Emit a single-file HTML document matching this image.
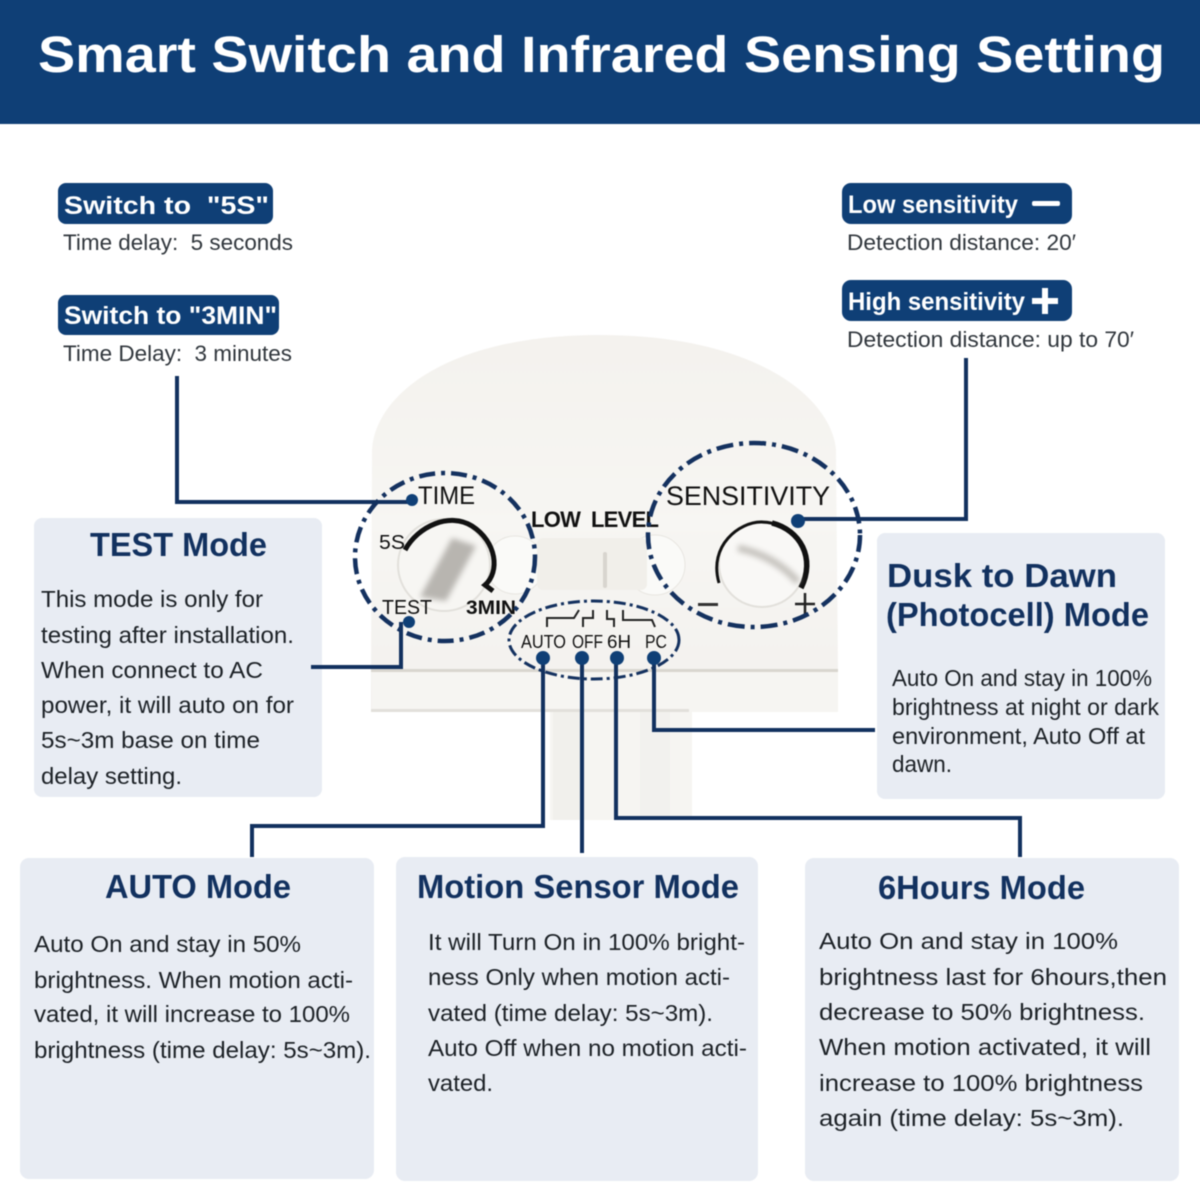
<!DOCTYPE html>
<html><head><meta charset="utf-8"><style>
html,body{margin:0;padding:0;background:#fff}
svg{display:block}
.all{filter:blur(.4px)}
text{font-family:"Liberation Sans",sans-serif}
.b{font-size:23px;fill:#1c2126}
.h{font-size:33px;font-weight:bold;fill:#12315f}
.t{font-size:22px;fill:#30363c}
.w{font-size:25px;font-weight:bold;fill:#fff}
.d{fill:#111}
</style></head><body>
<svg width="1200" height="1200" viewBox="0 0 1200 1200" xmlns="http://www.w3.org/2000/svg">
<defs>
<linearGradient id="body" x1="0" y1="0" x2="0" y2="1"><stop offset="0" stop-color="#f4f2ee"/><stop offset=".5" stop-color="#f7f6f3"/><stop offset="1" stop-color="#f3f1ee"/></linearGradient>
<filter id="s2" x="-30%" y="-30%" width="160%" height="160%"><feGaussianBlur stdDeviation="3"/></filter>
</defs>
<rect width="1200" height="1200" fill="#fff"/>
<g class="all">
<rect x="-20" y="-20" width="1240" height="144" fill="#0f3f76"/>
<text x="38" y="72" font-size="51" font-weight="bold" fill="#fff" textLength="1127" lengthAdjust="spacingAndGlyphs">Smart Switch and Infrared Sensing Setting</text>

<!-- device -->
<rect x="550" y="705" width="142" height="115" fill="#f6f5f2"/>
<rect x="553" y="712" width="28" height="108" fill="#f1f0ec"/>
<rect x="640" y="712" width="30" height="108" fill="#f2f1ee"/>
<path d="M372 450C374 400 440 335 600 335C760 335 832 400 836 450L838 670L838 712L371 712L371 670Z" fill="url(#body)"/>
<rect x="371" y="669" width="467" height="3" fill="#d9d6cf"/>
<rect x="372" y="672" width="466" height="40" fill="#f6f5f2"/>
<rect x="371" y="709" width="318" height="3" fill="#e2e0db"/>
<circle cx="515" cy="565" r="29" fill="#fafaf8" stroke="#e8e6e1"/>
<circle cx="655" cy="565" r="30" fill="#fafaf8" stroke="#e8e6e1"/>
<rect x="537" y="538" width="110" height="52" rx="6" fill="#f1efea"/>
<rect x="603" y="552" width="4" height="36" rx="2" fill="#d8d5cf"/>

<!-- knobs -->
<circle cx="444" cy="565" r="46" fill="#f7f6f3" stroke="#e2e0db" stroke-width="2"/>
<path d="M420 597L452 538L476 546L446 601Z" fill="#b8b5b0" filter="url(#s2)"/>
<path d="M405 550C418 526 450 512 472 526C497 542 500 572 485 585L493 591" fill="none" stroke="#111" stroke-width="5"/>
<circle cx="762" cy="564" r="43" fill="#f9f8f6" stroke="#e2e0db" stroke-width="2"/>
<path d="M719 583C708 545 740 522 761 522C795 522 818 555 800 587" fill="none" stroke="#111" stroke-width="3"/>
<path d="M772 523C800 530 816 558 801 588" fill="none" stroke="#111" stroke-width="5.5"/>
<path d="M738 548Q775 556 798 582" fill="none" stroke="#c4c1bc" stroke-width="7" filter="url(#s2)"/>

<!-- device labels -->
<text class="d" x="418" y="504" font-size="25" textLength="57" lengthAdjust="spacingAndGlyphs">TIME</text>
<text class="d" x="379" y="549" font-size="20" textLength="26" lengthAdjust="spacingAndGlyphs">5S</text>
<text class="d" x="382" y="614" font-size="20" textLength="50" lengthAdjust="spacingAndGlyphs">TEST</text>
<text class="d" x="466" y="614" font-size="19" font-weight="bold" textLength="50" lengthAdjust="spacingAndGlyphs">3MIN</text>
<text class="d" x="531" y="527" font-size="22" font-weight="bold" textLength="128" lengthAdjust="spacing">LOW&#160;&#160;LEVEL</text>
<text class="d" x="666" y="505" font-size="27" textLength="164" lengthAdjust="spacingAndGlyphs">SENSITIVITY</text>
<rect x="698" y="603" width="20" height="3" fill="#333"/>
<path d="M795 604H815M805 593V617" stroke="#222" stroke-width="2.5"/>
<text class="d" x="521" y="648" font-size="18" textLength="45" lengthAdjust="spacingAndGlyphs">AUTO</text>
<text class="d" x="572" y="648" font-size="18" textLength="31" lengthAdjust="spacingAndGlyphs">OFF</text>
<text class="d" x="607" y="648" font-size="18" textLength="24" lengthAdjust="spacingAndGlyphs">6H</text>
<text class="d" x="645" y="648" font-size="18" textLength="22" lengthAdjust="spacingAndGlyphs">PC</text>
<path d="M547 627V618H574L579 610M583 627V618H593V610M607 610V619H614V627M623 610V620H652L655 627" fill="none" stroke="#222" stroke-width="2"/>

<!-- dashed circles -->
<ellipse cx="445" cy="557" rx="90" ry="84" fill="none" stroke="#14315f" stroke-width="4.5" stroke-dasharray="16 6 4 6"/>
<ellipse cx="754" cy="535" rx="106" ry="92" fill="none" stroke="#14315f" stroke-width="4.5" stroke-dasharray="17 6 4 6"/>
<ellipse cx="594" cy="640" rx="85" ry="39" fill="none" stroke="#14315f" stroke-width="3" stroke-dasharray="12 4 3 4"/>

<!-- top-left -->
<rect x="58" y="183" width="215" height="41" rx="8" fill="#0f3f76"/>
<text class="w" x="64" y="214" textLength="205" lengthAdjust="spacingAndGlyphs">Switch to&#160;&#160;"5S"</text>
<text class="t" x="63" y="250" textLength="230" lengthAdjust="spacingAndGlyphs">Time delay:&#160;&#160;5 seconds</text>
<rect x="58" y="295" width="221" height="40" rx="8" fill="#0f3f76"/>
<text class="w" x="64" y="324" textLength="213" lengthAdjust="spacingAndGlyphs">Switch to "3MIN"</text>
<text class="t" x="63" y="361" textLength="229" lengthAdjust="spacingAndGlyphs">Time Delay:&#160;&#160;3 minutes</text>

<!-- top-right -->
<rect x="842" y="183" width="230" height="41" rx="9" fill="#0f3f76"/>
<text class="w" x="848" y="213" textLength="170" lengthAdjust="spacingAndGlyphs" font-size="24">Low sensitivity</text>
<rect x="1032" y="201" width="28" height="5" rx="2" fill="#fff"/>
<text class="t" x="847" y="250" textLength="229" lengthAdjust="spacingAndGlyphs">Detection distance: 20′</text>
<rect x="842" y="280" width="230" height="41" rx="9" fill="#0f3f76"/>
<text class="w" x="848" y="310" textLength="177" lengthAdjust="spacingAndGlyphs" font-size="24">High sensitivity</text>
<path d="M1032 301H1058M1045 288V314" stroke="#fff" stroke-width="6"/>
<text class="t" x="847" y="347" textLength="287" lengthAdjust="spacingAndGlyphs">Detection distance: up to 70′</text>

<!-- panels -->
<rect x="34" y="518" width="288" height="279" rx="8" fill="#e8ecf3"/>
<rect x="877" y="533" width="288" height="266" rx="8" fill="#e8ecf3"/>
<rect x="20" y="858" width="354" height="321" rx="9" fill="#e8ecf3"/>
<rect x="396" y="857" width="362" height="324" rx="9" fill="#e8ecf3"/>
<rect x="805" y="858" width="374" height="323" rx="9" fill="#e8ecf3"/>

<!-- connectors -->
<g fill="none" stroke="#12315f" stroke-width="4">
<path d="M177 376V502H412"/>
<path d="M966 358V519H797"/>
<path d="M311 667H401V622"/>
<path d="M543 656V826H252V857"/>
<path d="M582 657V853"/>
<path d="M616 657V818H1020V857"/>
<path d="M654 657V730H875"/>
</g>
<g fill="#0f3f76">
<circle cx="412" cy="500" r="6"/>
<circle cx="409" cy="622" r="6"/>
<circle cx="798" cy="521" r="7"/>
<circle cx="543" cy="658" r="7"/>
<circle cx="582" cy="658" r="7"/>
<circle cx="617" cy="658" r="7"/>
<circle cx="654" cy="658" r="7"/>
</g>

<!-- test -->
<text class="h" x="90" y="556" textLength="177" lengthAdjust="spacingAndGlyphs">TEST Mode</text>
<text class="b" x="41" y="607" textLength="222" lengthAdjust="spacingAndGlyphs">This mode is only for</text>
<text class="b" x="41" y="643" textLength="253" lengthAdjust="spacingAndGlyphs">testing after installation.</text>
<text class="b" x="41" y="678" textLength="222" lengthAdjust="spacingAndGlyphs">When connect to AC</text>
<text class="b" x="41" y="713" textLength="253" lengthAdjust="spacingAndGlyphs">power, it will auto on for</text>
<text class="b" x="41" y="748" textLength="219" lengthAdjust="spacingAndGlyphs">5s~3m base on time</text>
<text class="b" x="41" y="784" textLength="141" lengthAdjust="spacingAndGlyphs">delay setting.</text>

<!-- dusk -->
<text class="h" x="887" y="587" textLength="230" lengthAdjust="spacingAndGlyphs">Dusk to Dawn</text>
<text class="h" x="886" y="626" textLength="263" lengthAdjust="spacingAndGlyphs">(Photocell) Mode</text>
<text class="b" x="892" y="686" textLength="260" lengthAdjust="spacingAndGlyphs">Auto On and stay in 100%</text>
<text class="b" x="892" y="715" textLength="267" lengthAdjust="spacingAndGlyphs">brightness at night or dark</text>
<text class="b" x="892" y="744" textLength="253" lengthAdjust="spacingAndGlyphs">environment, Auto Off at</text>
<text class="b" x="892" y="772" textLength="60" lengthAdjust="spacingAndGlyphs">dawn.</text>

<!-- auto -->
<text class="h" x="105" y="898" textLength="186" lengthAdjust="spacingAndGlyphs">AUTO Mode</text>
<text class="b" x="34" y="952" textLength="267" lengthAdjust="spacingAndGlyphs">Auto On and stay in 50%</text>
<text class="b" x="34" y="988" textLength="319" lengthAdjust="spacingAndGlyphs">brightness. When motion acti-</text>
<text class="b" x="34" y="1022" textLength="316" lengthAdjust="spacingAndGlyphs">vated, it will increase to 100%</text>
<text class="b" x="34" y="1058" textLength="337" lengthAdjust="spacingAndGlyphs">brightness (time delay: 5s~3m).</text>

<!-- motion -->
<text class="h" x="417" y="898" textLength="322" lengthAdjust="spacingAndGlyphs">Motion Sensor Mode</text>
<text class="b" x="428" y="950" textLength="317" lengthAdjust="spacingAndGlyphs">It will Turn On in 100% bright-</text>
<text class="b" x="428" y="985" textLength="302" lengthAdjust="spacingAndGlyphs">ness Only when motion acti-</text>
<text class="b" x="428" y="1021" textLength="285" lengthAdjust="spacingAndGlyphs">vated (time delay: 5s~3m).</text>
<text class="b" x="428" y="1056" textLength="319" lengthAdjust="spacingAndGlyphs">Auto Off when no motion acti-</text>
<text class="b" x="428" y="1091" textLength="65" lengthAdjust="spacingAndGlyphs">vated.</text>

<!-- 6h -->
<text class="h" x="878" y="899" textLength="207" lengthAdjust="spacingAndGlyphs">6Hours Mode</text>
<text class="b" x="819" y="949" textLength="299" lengthAdjust="spacingAndGlyphs">Auto On and stay in 100%</text>
<text class="b" x="819" y="985" textLength="348" lengthAdjust="spacingAndGlyphs">brightness last for 6hours,then</text>
<text class="b" x="819" y="1020" textLength="326" lengthAdjust="spacingAndGlyphs">decrease to 50% brightness.</text>
<text class="b" x="819" y="1055" textLength="332" lengthAdjust="spacingAndGlyphs">When motion activated, it will</text>
<text class="b" x="819" y="1091" textLength="324" lengthAdjust="spacingAndGlyphs">increase to 100% brightness</text>
<text class="b" x="819" y="1126" textLength="305" lengthAdjust="spacingAndGlyphs">again (time delay: 5s~3m).</text>
</g>
</svg>
</body></html>
